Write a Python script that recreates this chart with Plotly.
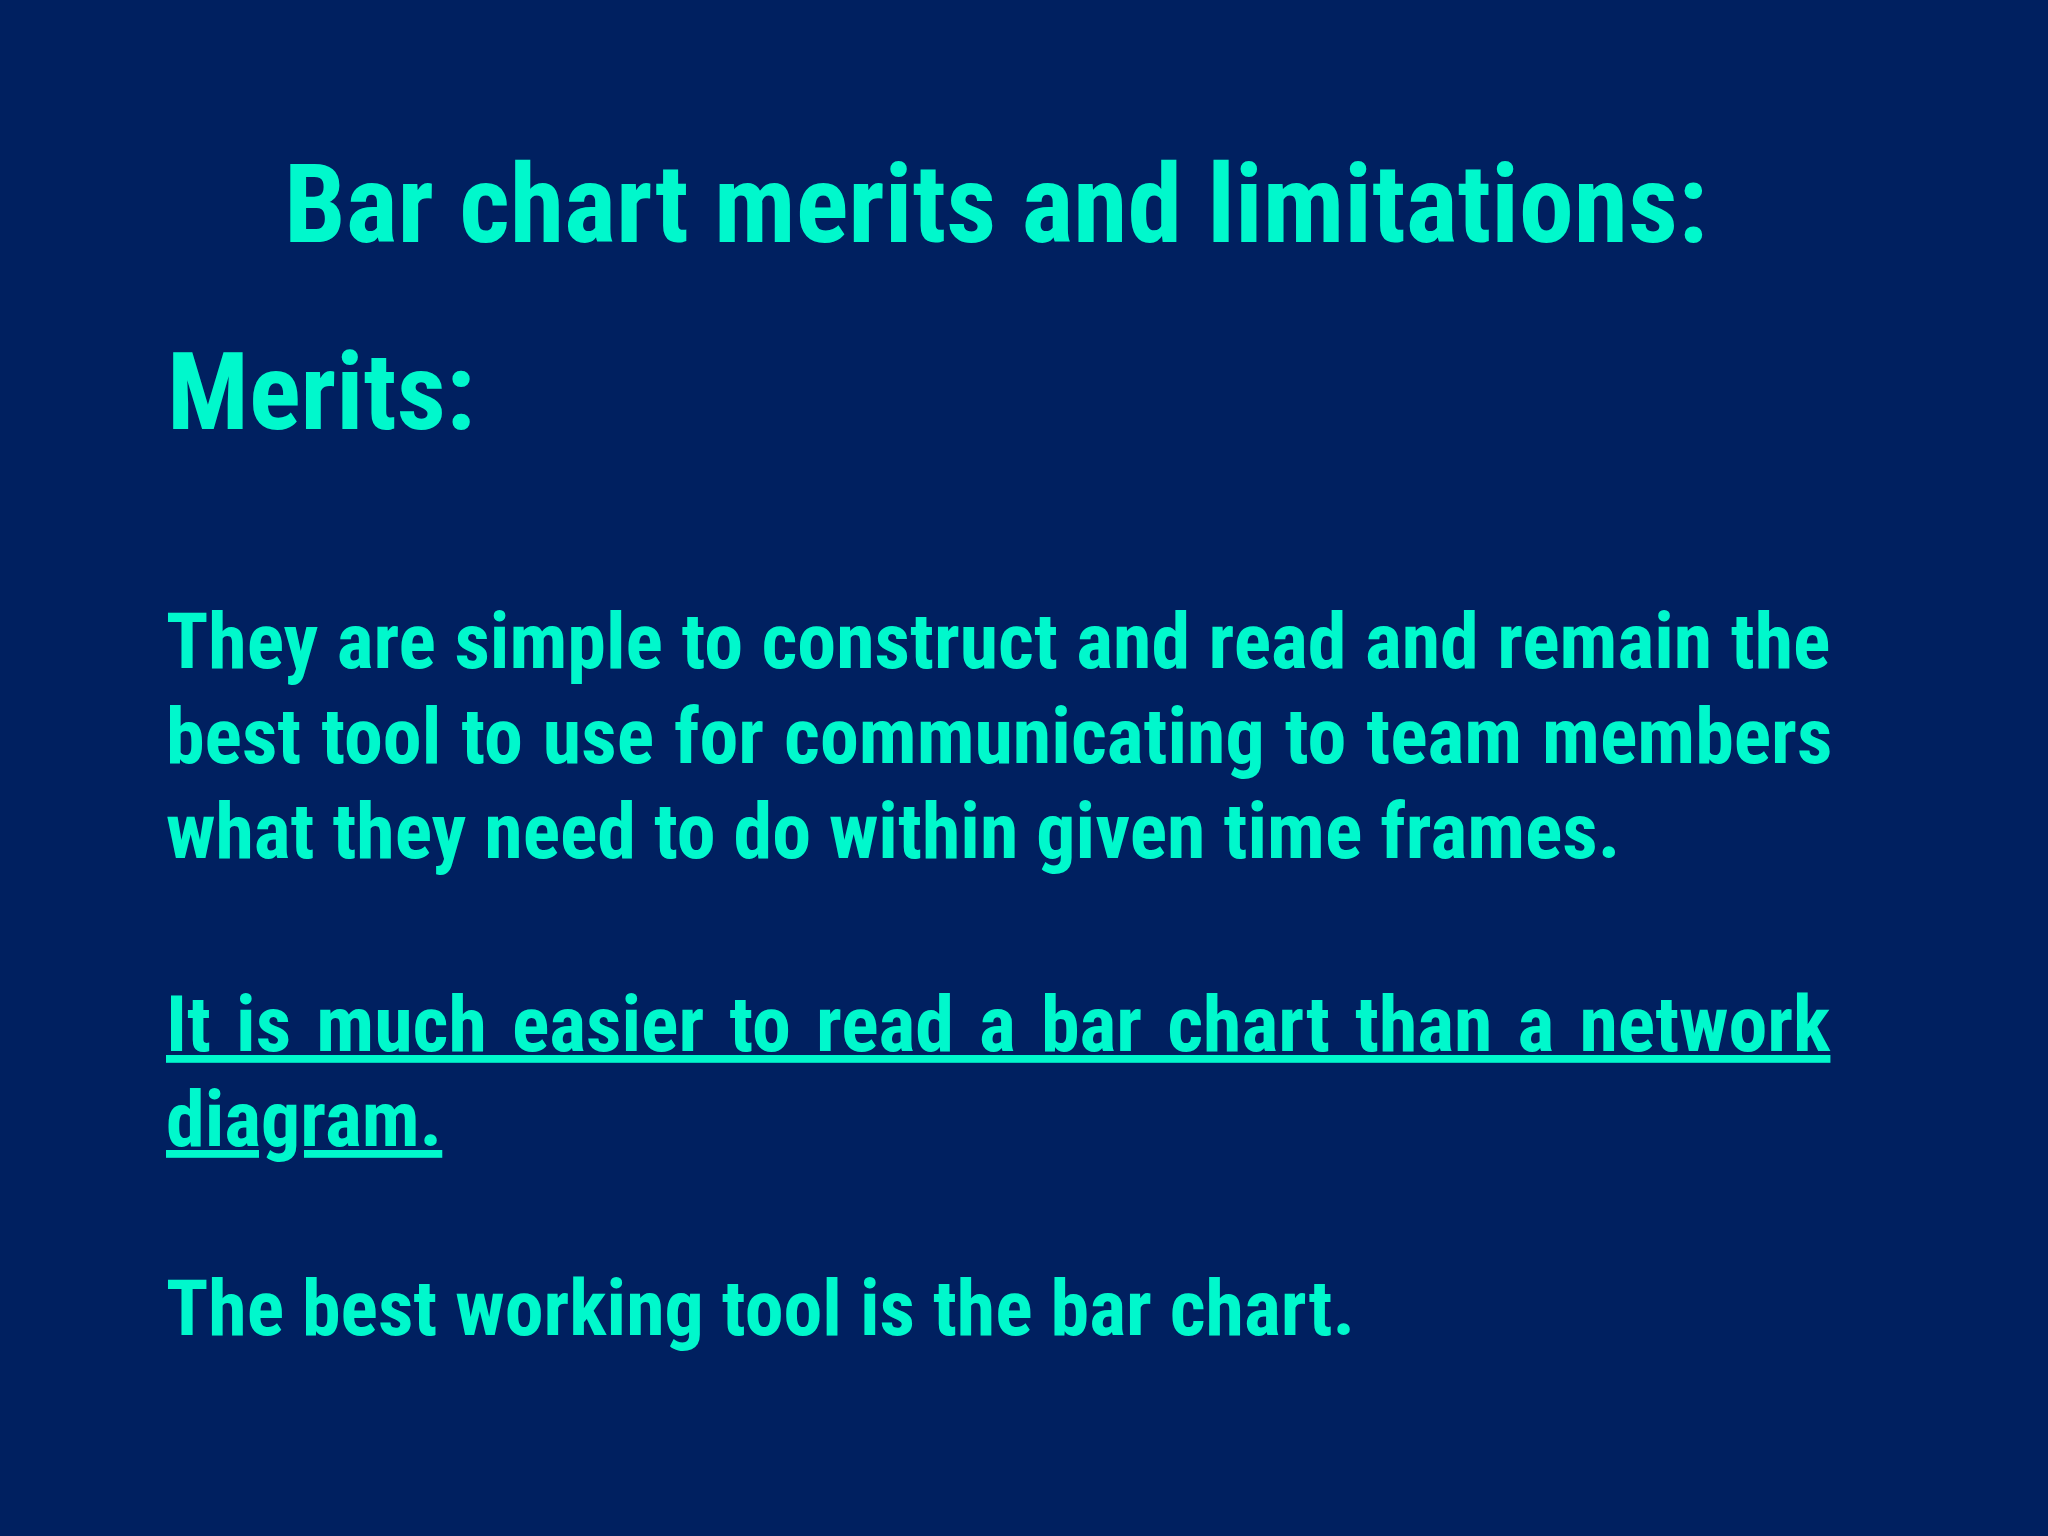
import plotly.graph_objects as go

W, H = 2048, 1536
BG = "#002060"
FG = "#00F8CC"
FONT = "Roboto Condensed, Liberation Sans Narrow, Arial Narrow, sans-serif"

title_text = "Bar chart merits and limitations:"
heading_text = "Merits:"
body_lines = [
    "They are simple to construct and read and remain the",
    "best tool to use for communicating to team members",
    "what they need to do within given time frames.",
    "It is much easier to read a bar chart than a network",
    "diagram.",
    "The best working tool is the bar chart.",
]
body_baselines = [668, 763, 858, 1051, 1146, 1335]
body_underline = [False, False, False, True, True, False]
# extra word spacing (px) to imitate the justified text block
body_word_spacing = [0.5, 2.0, 0, 7.15, 0, 0]

fig = go.Figure()

def add_line(text, x_px, baseline_px, size, anchor="left"):
    yc = baseline_px - 0.3415 * size
    fig.add_annotation(
        text="<b>" + text + "</b>",
        x=x_px / W, y=1 - yc / H,
        xref="paper", yref="paper",
        xanchor=anchor, yanchor="middle",
        showarrow=False,
        font=dict(family=FONT, size=size, color=FG),
    )

add_line(title_text, 996, 242, 110, anchor="center")
add_line(heading_text, 165, 429, 108)
for t, b, u, ws in zip(body_lines, body_baselines, body_underline, body_word_spacing):
    s = t
    styles = []
    if ws:
        styles.append("word-spacing:%spx" % ws)
    if u:
        styles.append("text-decoration:underline")
        styles.append("text-decoration-skip-ink:none")
    if styles:
        s = '<span style="%s">%s</span>' % (";".join(styles), s)
    add_line(s, 164, b, 78)

fig.update_layout(
    width=W, height=H,
    margin=dict(l=0, r=0, t=0, b=0),
    paper_bgcolor=BG, plot_bgcolor=BG,
    xaxis=dict(visible=False, range=[0, 1]),
    yaxis=dict(visible=False, range=[0, 1]),
    showlegend=False,
)
fig.write_html("out.html", config={"displayModeBar": False},
               post_script="document.body.style.margin='0';")
